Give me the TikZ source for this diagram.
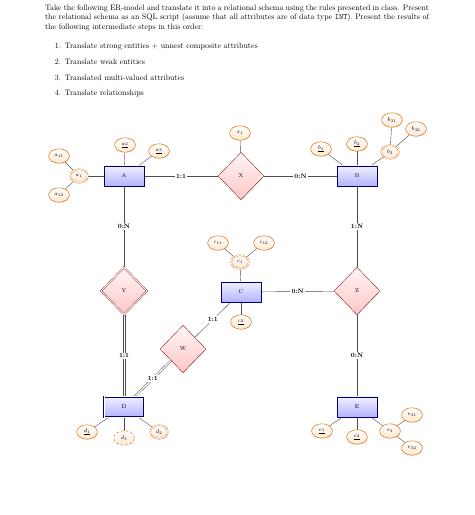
\documentclass[tikz,border=0pt]{standalone}
\usepackage{tikz}
\usetikzlibrary{positioning,shapes.geometric,calc,shadows}
\pgfdeclarelayer{background}
\pgfsetlayers{background,main}
\tikzstyle{entity} = [rectangle, draw=blue!45!black, top color=blue!6, bottom color=blue!30, minimum width=1.77cm, minimum height=0.89cm, font=\scriptsize, drop shadow={opacity=0.25, shadow xshift=0.6pt, shadow yshift=-0.6pt}]
\tikzstyle{weak_entity} = [entity, double, double distance=1.2pt]
\tikzstyle{relation} = [diamond, draw=red!45!black, top color=red!4, bottom color=red!22, minimum width=2.04cm, minimum height=2.1cm, inner sep=0pt, font=\scriptsize, drop shadow={opacity=0.25, shadow xshift=0.6pt, shadow yshift=-0.6pt}]
\tikzstyle{ident_relation} = [relation, double, double distance=1.2pt]
\tikzstyle{attribute} = [ellipse, draw=orange!85!black, semithick, top color=white, bottom color=orange!18, minimum width=0.92cm, minimum height=0.64cm, inner sep=1pt, font=\scriptsize, drop shadow={opacity=0.2, shadow xshift=0.5pt, shadow yshift=-0.5pt}]
\tikzstyle{multi_attribute} = [attribute, thin, double, double distance=1pt, minimum width=0.78cm, minimum height=0.6cm]
\tikzstyle{derived_attribute} = [attribute, dashed]
\tikzstyle{card} = [fill=white, inner sep=1.5pt, font=\footnotesize\bfseries]
\tikzstyle{link} = [draw=black!70, line width=0.5pt]
\tikzstyle{ident_link} = [draw=black!75, line width=0.5pt, double, double distance=1.6pt]

\begin{document}
\begin{tikzpicture}[x=0.0443cm, y=-0.0443cm]
        \useasboundingbox (0,0) rectangle (474,515);
        % Task -------------------------------------------------------------------------------------
        \node[anchor=north west, inner sep=0pt](task) at (45,4.5){\begin{minipage}{17cm}
            Take the following ER-model and translate it into a relational schema using the rules presented in class. Present the relational schema as an SQL script (assume that all attributes are of data type \texttt{INT}). Present the results of the following intermediate steps in this order:
            \vspace{4pt}
            \begin{enumerate}
                \item Translate strong entities + unnest composite attributes
                \item Translate weak entities
                \item Translated multi-valued attributes
                \item Translate relationships
            \end{enumerate}
        \end{minipage}};
        % Entities ---------------------------------------------------------------------------------
        \node[entity](ent_a) at (124,176){A};
        \node[entity](ent_b) at (357,176){B};
        \node[entity](ent_c) at (241,292){C};
        \node[weak_entity](ent_d) at (124,407){D};
        \node[entity](ent_e) at (357,407){E};
        % Relationships ----------------------------------------------------------------------------
        \node[relation](rel_x) at (241,176){X};
        \node[ident_relation](rel_y) at (124,291){Y};
        \node[relation](rel_z) at (357,291){Z};
        \node[relation](rel_w) at (183,349){W};
        % Attributes of A
        \node[multi_attribute](att_a1) at (79,176){$a_1$};
        \node[attribute](att_a11) at (59,156){$a_{11}$};
        \node[attribute](att_a12) at (59,195){$a_{12}$};
        \node[attribute](att_a2) at (125,145){$\underline{a_2}$};
        \node[attribute](att_a3) at (159,151){$\underline{a_3}$};
        % Attributes of X and B
        \node[attribute](att_x1) at (240,133){$x_1$};
        \node[attribute](att_b1) at (321,149){$\underline{b_1}$};
        \node[attribute](att_b2) at (357,144){$\underline{b_2}$};
        \node[multi_attribute](att_b3) at (390,152){$b_3$};
        \node[attribute](att_b31) at (392,120){$b_{31}$};
        \node[attribute](att_b32) at (416,129){$b_{32}$};
        % Attributes of C
        \node[multi_attribute](att_c1) at (240,262){$c_1$};
        \node[attribute](att_c11) at (218,243){$c_{11}$};
        \node[attribute](att_c12) at (264,243){$c_{12}$};
        \node[attribute](att_c2) at (241,322){$\underline{c_2}$};
        % Attributes of D
        \node[attribute](att_d1) at (87,432){$\underline{d_1}$};
        \node[derived_attribute](att_d3) at (124,438){$d_3$};
        \node[multi_attribute](att_d2) at (159,432){$d_2$};
        % Attributes of E
        \node[attribute](att_e1) at (322,431){$\underline{e_1}$};
        \node[attribute](att_e2) at (357,437){$\underline{e_2}$};
        \node[attribute](att_e3) at (390,431){$e_3$};
        \node[attribute](att_e31) at (412,415){$e_{31}$};
        \node[attribute](att_e32) at (412,448){$e_{32}$};
        % Attribute links --------------------------------------------------------------------------
        \begin{pgfonlayer}{background}
            \draw[link] (att_a1) -- (ent_a);
            \draw[link] (att_a11) -- (att_a1);
            \draw[link] (att_a12) -- (att_a1);
            \draw[link] (att_a2) -- (ent_a);
            \draw[link] (att_a3) -- (ent_a);
            \draw[link] (att_x1) -- (rel_x);
            \draw[link] (att_b1) -- (ent_b);
            \draw[link] (att_b2) -- (ent_b);
            \draw[link] (att_b3) -- (ent_b);
            \draw[link] (att_b31) -- (att_b3);
            \draw[link] (att_b32) -- (att_b3);
            \draw[link] (att_c1) -- (ent_c);
            \draw[link] (att_c11) -- (att_c1);
            \draw[link] (att_c12) -- (att_c1);
            \draw[link] (att_c2) -- (ent_c);
            \draw[link] (att_d1) -- (ent_d);
            \draw[link] (att_d3) -- (ent_d);
            \draw[link] (att_d2) -- (ent_d);
            \draw[link] (att_e1) -- (ent_e);
            \draw[link] (att_e2) -- (ent_e);
            \draw[link] (att_e3) -- (ent_e);
            \draw[link] (att_e31) -- (att_e3);
            \draw[link] (att_e32) -- (att_e3);
        % Relationship links -----------------------------------------------------------------------
            \draw[link] (ent_a) -- node[card]{1:1} (rel_x);
            \draw[link] (rel_x) -- node[card]{0:N} (ent_b);
            \draw[link] (ent_a) -- node[card]{0:N} (rel_y);
            \draw[link] ([xshift=-1.1pt]rel_y.south) -- ([xshift=-1.1pt]ent_d.north);
            \draw[link] ([xshift=1.1pt]rel_y.south) -- node[card, xshift=-1.1pt]{1:1} ([xshift=1.1pt]ent_d.north);
            \draw[link] (ent_c) -- node[card]{1:1} (rel_w);
            \draw[ident_link] (rel_w) -- node[card]{1:1} (ent_d);
            \draw[link] (ent_c) -- node[card]{0:N} (rel_z);
            \draw[link] (ent_b) -- node[card]{1:N} (rel_z);
            \draw[link] (rel_z) -- node[card]{0:N} (ent_e);
        \end{pgfonlayer}
    \end{tikzpicture}
\end{document}
